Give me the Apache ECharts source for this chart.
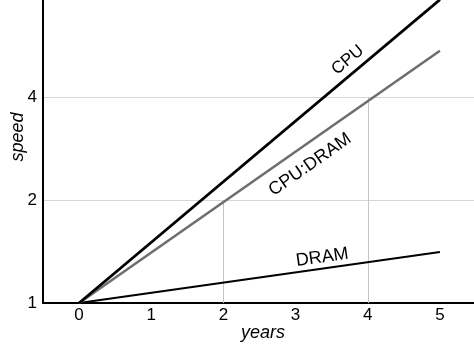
<!DOCTYPE html>
<html>
<head>
<meta charset="utf-8">
<script src="https://cdn.jsdelivr.net/npm/echarts@6/dist/echarts.min.js"></script>
<style>
  html, body { margin: 0; padding: 0; background: #fff; }
  #chart { width: 474px; height: 344px; }
</style>
</head>
<body>
<div id="chart"></div>
<script>
// Speed growth over time (log2 speed axis)
const years = [0, 5];
const cpuSpeed = [1, 7.7];
const dramSpeed = [1, 1.41];
const cpuDramRatio = [1, 5.46];
const yearTicks = [0, 1, 2, 3, 4, 5];
const speedTicks = [1, 2, 4, 8];
// guide lines: year -> speed level they rise to
const guideYears = [2, 4];
const guideSpeeds = [2, 4];

const FONT = '"Liberation Sans", Arial, Helvetica, sans-serif';

const chart = echarts.init(document.getElementById('chart'), null, { renderer: 'canvas' });

const pairs = (ys) => years.map((x, i) => [x, ys[i]]);

const guideLines = guideYears.map((x, i) => [
  { coord: [x, speedTicks[0]] },
  { coord: [x, guideSpeeds[i]] }
]);

chart.setOption({
  backgroundColor: '#ffffff',
  animation: false,
  grid: {
    left: 43, right: -2, top: -6, bottom: 41,
    containLabel: false,
    outerBoundsMode: 'none'
  },
  xAxis: {
    type: 'value',
    min: -0.5,
    max: 5.5,
    axisLine: { show: true, onZero: false, lineStyle: { color: '#000', width: 2 } },
    axisTick: { show: false },
    splitLine: { show: false },
    axisLabel: {
      customValues: yearTicks,
      margin: 4,
      fontFamily: FONT,
      fontSize: 17,
      color: '#000'
    }
  },
  yAxis: {
    type: 'log',
    logBase: 2,
    min: speedTicks[0],
    max: speedTicks[speedTicks.length - 1],
    axisLine: { show: true, onZero: false, lineStyle: { color: '#000', width: 2 } },
    axisTick: { show: false },
    splitLine: { show: true, lineStyle: { color: '#d6d6d6', width: 1 } },
    axisLabel: {
      margin: 6,
      showMaxLabel: true,
      showMinLabel: true,
      hideOverlap: false,
      fontFamily: FONT,
      fontSize: 17,
      color: '#000',
      padding: [10, 0, 0, 0]
    }
  },
  series: [
    {
      name: 'DRAM',
      type: 'line',
      data: pairs(dramSpeed),
      symbol: 'none',
      lineStyle: { color: '#000', width: 2 },
      z: 3
    },
    {
      name: 'CPU:DRAM',
      type: 'line',
      data: pairs(cpuDramRatio),
      symbol: 'none',
      lineStyle: { color: '#6e6e6e', width: 2.6 },
      z: 3,
      markLine: {
        silent: true,
        symbol: 'none',
        label: { show: false },
        lineStyle: { color: '#c4c4c4', width: 1, type: 'solid' },
        data: guideLines,
        z: 1
      }
    },
    {
      name: 'CPU',
      type: 'line',
      data: pairs(cpuSpeed),
      symbol: 'none',
      lineStyle: { color: '#000', width: 2.8 },
      z: 4
    }
  ]
});

// Text running along each line: t = fraction along the line, off = pixels above it
function lineLabel(text, ys, t, off, size) {
  const p0 = chart.convertToPixel({ gridIndex: 0 }, [years[0], ys[0]]);
  const p1 = chart.convertToPixel({ gridIndex: 0 }, [years[1], ys[1]]);
  const dx = p1[0] - p0[0], dy = p1[1] - p0[1];
  const len = Math.hypot(dx, dy);
  const nx = dy / len, ny = -dx / len;
  return {
    type: 'text',
    x: p0[0] + dx * t + nx * off,
    y: p0[1] + dy * t + ny * off,
    rotation: Math.atan2(-dy, dx),
    z: 10,
    style: {
      text: text,
      fill: '#000',
      font: size + 'px ' + FONT,
      align: 'center',
      verticalAlign: 'middle'
    }
  };
}

function axisTitle(text, x, y, rotation) {
  return {
    type: 'text',
    x: x,
    y: y,
    rotation: rotation,
    style: {
      text: text,
      fill: '#000',
      font: 'italic 18px ' + FONT,
      align: 'center',
      verticalAlign: 'middle'
    }
  };
}

chart.setOption({
  graphic: [
    lineLabel('CPU', cpuSpeed, 0.768, 13, 17),
    lineLabel('CPU:DRAM', cpuDramRatio, 0.61, -19, 18),
    lineLabel('DRAM', dramSpeed, 0.678, 11, 18),
    axisTitle('speed', 18, 137, Math.PI / 2),
    axisTitle('years', 263, 333, 0)
  ]
});
</script>
</body>
</html>
